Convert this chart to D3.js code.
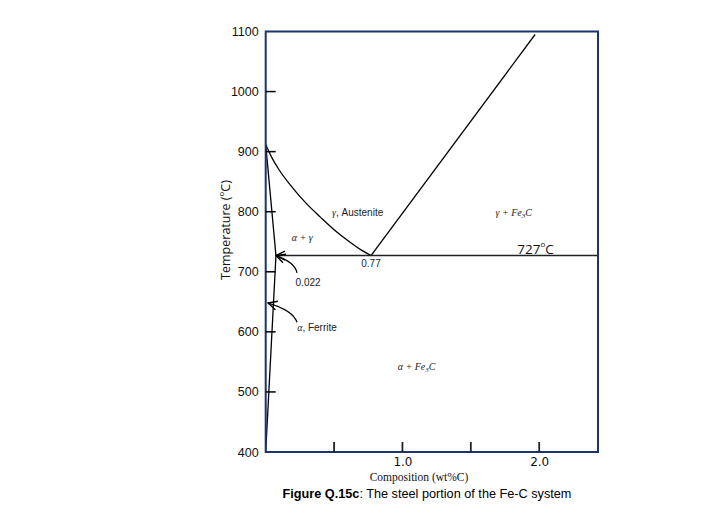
<!DOCTYPE html>
<html>
<head>
<meta charset="utf-8">
<script src="https://cdn.jsdelivr.net/npm/d3@7"></script>
<style>
  html, body { margin: 0; padding: 0; background: #fff; }
  svg { display: block; }
</style>
</head>
<body>
<svg id="chart" width="719" height="518"></svg>
<script>
// ---------- data ----------
const yTickValues = [400, 500, 600, 700, 800, 900, 1000, 1100];
const xTickValues = [0.5, 1.0, 1.5, 2.0];
const xTickLabels = ["", "1.0", "", "2.0"];
// alpha / (alpha+gamma) boundary (schematic, exaggerated)
const alphaBoundary = [[0, 912], [0.075, 727], [0, 400]];
// A3 line: gamma / (alpha+gamma)
const a3Curve = [[0, 912], [0.05, 888], [0.1, 869], [0.2, 839], [0.3, 813], [0.4, 791], [0.5, 770], [0.6, 752], [0.7, 736], [0.77, 727]];
// Acm line: gamma / (gamma+Fe3C)
const acmLine = [[0.77, 727], [1.97, 1095]];
// Eutectoid isotherm
const eutectoidTemp = 727;
const eutectoidStart = 0.075;
const eutectoidComp = 0.77;
const xMax = 2.43;
// annotation arrows [start(label end), control, tip]
const arrow022 = [[0.229, 698], [0.215, 716], [0.075, 727]];
const arrowFerrite = [[0.229, 616], [0.20, 636], [0.017, 648]];

// ---------- layout ----------
const svg = d3.select("#chart");
const x = d3.scaleLinear().domain([0, xMax]).range([265.7, 598]);
const y = d3.scaleLinear().domain([400, 1100]).range([452, 31.5]);
const navy = "#1b3470";

const defs = svg.append("defs");
defs.append("marker")
  .attr("id", "arrowhead")
  .attr("viewBox", "-1 -6 12 12")
  .attr("refX", 0).attr("refY", 0)
  .attr("markerWidth", 12).attr("markerHeight", 12)
  .attr("markerUnits", "userSpaceOnUse")
  .attr("orient", "auto")
  .append("path")
  .attr("d", "M9,-4.5 L0,0 L9,4.5")
  .attr("fill", "none")
  .attr("stroke", "#000")
  .attr("stroke-width", 1.4);

// ---------- phase lines ----------
const line = d3.line().x(d => x(d[0])).y(d => y(d[1]));
const curve = d3.line().x(d => x(d[0])).y(d => y(d[1])).curve(d3.curveMonotoneX);

svg.append("path").datum(alphaBoundary).attr("d", line)
  .attr("fill", "none").attr("stroke", "#000").attr("stroke-width", 1.3);
svg.append("path").datum(a3Curve).attr("d", curve)
  .attr("fill", "none").attr("stroke", "#000").attr("stroke-width", 1.3);
svg.append("path").datum(acmLine).attr("d", line)
  .attr("fill", "none").attr("stroke", "#000").attr("stroke-width", 1.3);

svg.append("path")
  .datum([[eutectoidStart, eutectoidTemp], [xMax, eutectoidTemp]])
  .attr("d", line)
  .attr("fill", "none").attr("stroke", "#222").attr("stroke-width", 1.6)
  .attr("marker-start", "url(#arrowhead)");

// annotation arrows (drawn from tip to label, arrowhead at tip)
const qpath = pts => {
  const p = d3.path();
  p.moveTo(x(pts[2][0]), y(pts[2][1]));
  p.quadraticCurveTo(x(pts[1][0]), y(pts[1][1]), x(pts[0][0]), y(pts[0][1]));
  return p.toString();
};
[arrow022, arrowFerrite].forEach(a => {
  svg.append("path").attr("d", qpath(a))
    .attr("fill", "none").attr("stroke", "#000").attr("stroke-width", 1.3)
    .attr("marker-start", "url(#arrowhead)");
});

// ---------- frame & axes ----------
svg.append("rect")
  .attr("x", x(0)).attr("y", y(1100))
  .attr("width", x(xMax) - x(0)).attr("height", y(400) - y(1100))
  .attr("fill", "none").attr("stroke", navy).attr("stroke-width", 2);

const yAxis = d3.axisLeft(y).tickValues(yTickValues).tickSize(0).tickPadding(7)
  .tickFormat(d3.format("d"));
const gy = svg.append("g").attr("transform", `translate(${x(0)},0)`).call(yAxis);
gy.select(".domain").remove();
gy.selectAll("text").attr("font-family", "Liberation Sans, Arial, sans-serif")
  .attr("font-size", 12.5).attr("fill", "#111");
// inner tick marks
svg.append("g").selectAll("line")
  .data(yTickValues.filter(v => v > 400 && v < 1100))
  .join("line")
  .attr("x1", x(0)).attr("x2", x(0) + 10)
  .attr("y1", d => y(d)).attr("y2", d => y(d))
  .attr("stroke", "#000").attr("stroke-width", 1.5);

const xAxis = d3.axisBottom(x).tickValues(xTickValues).tickSize(0).tickPadding(5)
  .tickFormat((d, i) => xTickLabels[i]);
const gx = svg.append("g").attr("transform", `translate(0,${y(400)})`).call(xAxis);
gx.select(".domain").remove();
gx.selectAll("text").attr("font-family", "DejaVu Sans, Verdana, sans-serif")
  .attr("font-size", 12).attr("fill", "#111");
svg.append("g").selectAll("line")
  .data(xTickValues)
  .join("line")
  .attr("x1", d => x(d)).attr("x2", d => x(d))
  .attr("y1", y(400)).attr("y2", y(400) - 10)
  .attr("stroke", "#222").attr("stroke-width", 1.8);

// axis titles
svg.append("text")
  .attr("x", 419).attr("y", 481)
  .attr("text-anchor", "middle")
  .attr("font-family", "Liberation Serif, Times New Roman, serif")
  .attr("font-size", 11.5).attr("fill", "#111")
  .text("Composition (wt%C)");

const yt = svg.append("text")
  .attr("transform", "translate(230,230) rotate(-90)")
  .attr("text-anchor", "middle")
  .attr("font-family", "Open Sans, Liberation Sans, sans-serif")
  .attr("font-size", 12.5).attr("fill", "#111");
yt.append("tspan").text("Temperature (");
yt.append("tspan").attr("font-size", 8).attr("dy", -6).text("o");
yt.append("tspan").attr("dy", 6).text("C)");

// caption
const cap = svg.append("text")
  .attr("x", 427).attr("y", 498)
  .attr("text-anchor", "middle")
  .attr("font-family", "Liberation Sans, Arial, sans-serif")
  .attr("font-size", 12.7).attr("fill", "#000");
cap.append("tspan").attr("font-weight", "bold").text("Figure Q.15c");
cap.append("tspan").text(": The steel portion of the Fe-C system");

// ---------- region labels ----------
const greek = "Liberation Serif, DejaVu Serif, serif";
const sans = "Liberation Sans, Arial, sans-serif";

function mathLabel(px, py, parts, anchor) {
  const t = svg.append("text").attr("x", px).attr("y", py)
    .attr("text-anchor", anchor || "start").attr("font-size", 10).attr("fill", "#222");
  parts.forEach(p => {
    const s = t.append("tspan").text(p.t)
      .attr("font-family", p.f || greek)
      .attr("font-style", p.i === false ? "normal" : "italic");
    if (p.sz) s.attr("font-size", p.sz);
    if (p.dy) s.attr("dy", p.dy);
  });
  return t;
}

mathLabel(x(0.485), y(793), [{t: "γ"}, {t: ", Austenite", f: sans, i: false}]);
mathLabel(x(0.19), y(751), [{t: "α + γ"}]);
mathLabel(x(1.68), y(793), [{t: "γ + Fe"}, {t: "3", sz: 7, dy: 2}, {t: "C", dy: -2}]);
mathLabel(x(0.965), y(536), [{t: "α + Fe"}, {t: "3", sz: 7, dy: 2}, {t: "C", dy: -2}]);
mathLabel(x(0.23), y(601), [{t: "α"}, {t: ", Ferrite", f: sans, i: false}]);

svg.append("text").attr("x", x(eutectoidComp)).attr("y", y(eutectoidTemp) + 11)
  .attr("text-anchor", "middle").attr("font-family", sans).attr("font-size", 10)
  .attr("fill", "#222").text("0.77");
svg.append("text").attr("x", x(0.31)).attr("y", y(697) + 12)
  .attr("text-anchor", "middle").attr("font-family", sans).attr("font-size", 10)
  .attr("fill", "#222").text("0.022");

const t727 = svg.append("text").attr("x", x(1.84)).attr("y", y(eutectoidTemp) - 2)
  .attr("font-family", "Open Sans, Liberation Sans, sans-serif").attr("font-size", 13.5)
  .attr("fill", "#111");
t727.append("tspan").text("727");
t727.append("tspan").attr("font-size", 8).attr("dy", -7).text("o");
t727.append("tspan").attr("dy", 7).text("C");
</script>
</body>
</html>
